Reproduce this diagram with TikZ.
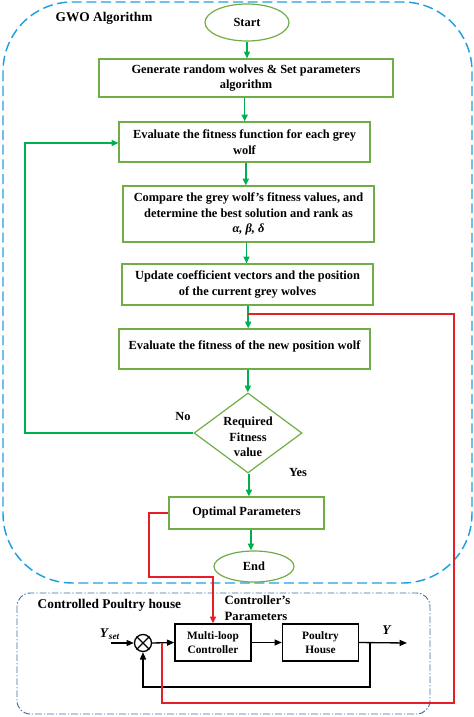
\documentclass[tikz,border=0pt]{standalone}
\usepackage{fontspec}
\setmainfont{Liberation Serif}
\usetikzlibrary{shapes.geometric,arrows.meta,calc}
\definecolor{boxgreen}{RGB}{112,173,71}
\definecolor{arrgreen}{RGB}{0,176,80}
\definecolor{outerblue}{RGB}{30,160,225}
\definecolor{innerblue}{RGB}{60,110,170}
\definecolor{redline}{RGB}{230,30,40}
\begin{document}
\begin{tikzpicture}[x=0.75pt,y=-0.75pt,
  font=\fontsize{9.3}{11.7}\selectfont\bfseries,
  box/.style={draw=boxgreen,line width=0.9pt,align=center,inner sep=1pt},
  term/.style={ellipse,draw=boxgreen,line width=0.9pt,inner sep=0pt},
  garr/.style={draw=arrgreen,line width=1.1pt,-{Triangle[length=5pt,width=4.5pt]}},
  rline/.style={draw=redline,line width=1pt},
  bline/.style={draw=black,line width=1pt},
  btip/.style={-{Triangle[length=5.5pt,width=4.5pt]}},
  rtip/.style={-{Triangle[length=5pt,width=4.5pt]}},
  bbox/.style={draw=black,line width=1pt,align=center,inner sep=1pt,minimum width=57pt,minimum height=27.75pt,font=\fontsize{8.5}{10.5}\selectfont\bfseries},
  outerframe/.style={draw=outerblue,line width=1.1pt,dash pattern=on 7.5pt off 3.5pt,rounded corners=52pt},
  innerframe/.style={draw=innerblue,line width=0.7pt,dash pattern=on 5pt off 1.5pt on 1pt off 1.5pt,rounded corners=10pt},
  title/.style={font=\fontsize{10}{12}\selectfont\bfseries,anchor=west}
]
\useasboundingbox (0,0) rectangle (474,717);

% frames
\draw[outerframe] (3,2) rectangle (472,583);
\draw[innerframe] (17,593) rectangle (430,714);
\node[title] (gwo) at (51,18) {GWO Algorithm};
\node[title] (cph) at (33,605) {Controlled Poultry house};

% flowchart
\node[term,minimum width=63pt,minimum height=27.75pt] (start) at (247,22.5) {Start};
\node[box,minimum width=220.5pt,minimum height=28.5pt] (b1) at (246,78) {Generate random wolves \& Set parameters\\algorithm};
\node[box,minimum width=188.25pt,minimum height=30pt] (b2) at (244.5,142) {Evaluate the fitness function for each grey\\wolf};
\node[box,minimum width=188.25pt,minimum height=42pt] (b3) at (248.5,214) {Compare the grey wolf’s fitness values, and\\determine the best solution and rank as\\\textit{α, β, δ}};
\node[box,minimum width=188.25pt,minimum height=30.75pt] (b4) at (247.5,284.5) {Update coefficient vectors and the position\\of the current grey wolves};
\node[box,minimum width=188.25pt,minimum height=30pt,text height=7pt,text depth=7pt] (b5) at (244.5,349) {Evaluate the fitness of the new position wolf};
\node[diamond,draw=boxgreen,line width=0.9pt,inner sep=0pt,minimum width=81pt,minimum height=60pt] (dec) at (248,433) {};
\node[align=center] (dect) at (248,437) {Required\\Fitness\\value};
\node[box,minimum width=116.25pt,minimum height=24pt] (b6) at (246.5,513) {Optimal Parameters};
\node[term,minimum width=60pt,minimum height=23.25pt] (end) at (254,566.5) {End};
\node (no) at (183,416) {No};
\node (yes) at (298,472) {Yes};

\draw[garr] (start) -- (start |- b1.north);
\draw[garr] ([xshift=-1pt]b1.south) -- ([xshift=-1pt]b1.south |- b2.north);
\draw[garr] ([xshift=1pt]b2.south) -- ([xshift=1pt]b2.south |- b3.north);
\draw[garr] ([xshift=-1.5pt]b3.south) -- ([xshift=-1.5pt]b3.south |- b4.north);
\draw[garr] ([xshift=0.5pt]b4.south) -- ([xshift=0.5pt]b4.south |- b5.north);
\draw[garr] ([xshift=2.5pt]b5.south) -- ([xshift=2.5pt]b5.south |- dec.north);
\draw[garr] ([xshift=0.7pt]dec.south) -- ([xshift=0.7pt]dec.south |- b6.north);
\draw[garr] ([xshift=3.3pt]b6.south) -- ([xshift=3.3pt]b6.south |- end.north);
\coordinate (loopc) at (25,433);
\draw[garr] (dec.west) -- (loopc) |- ([yshift=-0.75pt]b2.west);

% block diagram
\node[circle,draw=black,line width=1pt,minimum size=12.75pt,inner sep=0pt] (sum) at (143,643) {};
\draw[bline] (sum.45) -- (sum.225) (sum.135) -- (sum.315);
\node[bbox] (ctrl) at (213,642.5) {Multi-loop\\Controller};
\node[bbox] (ph) at (320.5,642.5) {Poultry\\House};
\node[font=\fontsize{10}{12}\selectfont\bfseries] (yset) at (110,634) {\textit{Y}\textsubscript{\textit{set}}};
\node[font=\fontsize{10}{12}\selectfont\bfseries] (ylab) at (387,630) {\textit{Y}};
\node[align=left,anchor=west,font=\fontsize{9.5}{12}\selectfont\bfseries] (cpar) at (220,608) {Controller’s\\Parameters};
\coordinate (yin) at (111,643);
\coordinate (yout) at (407,643);
\coordinate (fb) at (370,643);
\coordinate (fbc) at (370,687);
\draw[bline,btip] (yin) -- (sum.west);
\draw[bline,btip] (sum.east) -- (ctrl.west);
\draw[bline,btip] (ctrl.east) -- (ph.west);
\draw[bline,btip] (ph.east) -- (yout);
\draw[bline,btip] (fb) -- (fbc) -| (sum.south);

% red connectors
\coordinate (r1) at ($(b4.south)+(0.5pt,0)$);
\coordinate (r1) at (r1 |- 0,314);
\coordinate (rcorner) at (454,703);
\coordinate (rc) at (162,643);
\draw[rline] (r1) -| (rcorner) -| (rc);
\coordinate (rk) at (149,577);
\draw[rline,rtip] (b6.west) -| (rk) -| (ctrl.north);
\end{tikzpicture}
\end{document}
